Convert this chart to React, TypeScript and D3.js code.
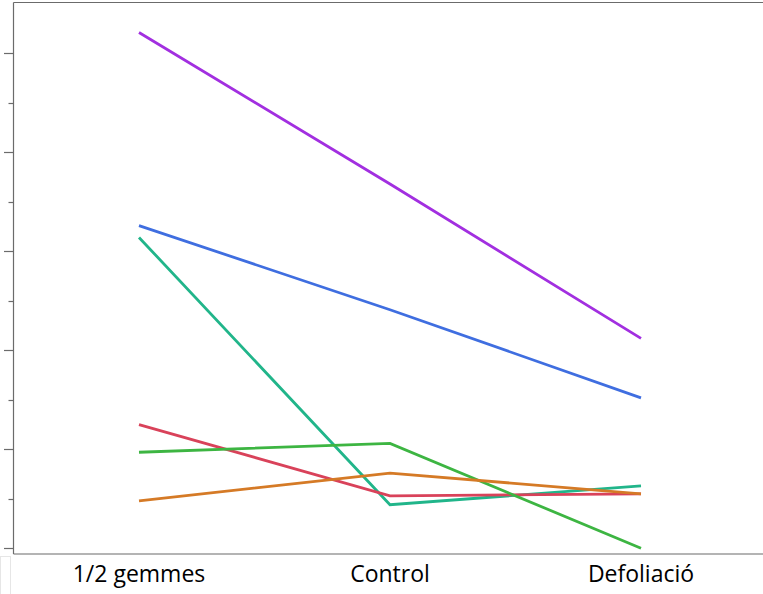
import * as d3 from "d3";

const categories = ["1/2 gemmes", "Control", "Defoliació"];

// values (no labels on the y axis, so arbitrary units)
const purple = [5.21, 3.68, 2.12];
const blue = [3.26, 2.41, 1.52];
const teal = [3.14, 0.44, 0.63];
const red = [1.25, 0.53, 0.55];
const green = [0.97, 1.06, 0.0];
const orange = [0.48, 0.76, 0.55];

const majorTicks = [0, 1, 2, 3, 4, 5];
const minorTicks = [0.5, 1.5, 2.5, 3.5, 4.5];

const series = [
  { name: "purple", color: "#a22fe0", values: purple },
  { name: "blue", color: "#3f6ee0", values: blue },
  { name: "teal", color: "#21b58a", values: teal },
  { name: "red", color: "#d9425a", values: red },
  { name: "green", color: "#3db542", values: green },
  { name: "orange", color: "#d57a26", values: orange },
];

const W = 763, H = 594;
const axisX = 13.5, top = 2.5, bottom = 554;

export default function App() {
  const x = d3.scalePoint<string>().domain(categories).range([13.5, 766.5]).padding(0.5);
  const y = d3.scaleLinear().domain([0, 5]).range([548.3, 53.3]);
  const line = d3.line<[string, number]>().x((d) => x(d[0])!).y((d) => y(d[1]));
  const axisColor = "#6b6b6b";

  return (
    <svg width={W} height={H} style={{ position: "absolute", left: 0, top: 0, background: "#fff" }}
      fontFamily="'Open Sans', 'Noto Sans', sans-serif">
      <rect x={0.5} y={556.5} width={10} height={40} fill="none" stroke="#e6e6e6" />
      {/* frame */}
      <line x1={axisX} x2={W} y1={top} y2={top} stroke={axisColor} strokeWidth={1.2} />
      <line x1={axisX} x2={W} y1={bottom} y2={bottom} stroke={axisColor} strokeWidth={1.2} />
      <line x1={axisX} x2={axisX} y1={top} y2={bottom} stroke={axisColor} strokeWidth={1.2} />
      {majorTicks.map((t) => (
        <line key={`M${t}`} x1={4} x2={axisX} y1={Math.round(y(t)) + 0.5} y2={Math.round(y(t)) + 0.5} stroke={axisColor} strokeWidth={1.2} />
      ))}
      {minorTicks.map((t) => (
        <line key={`m${t}`} x1={8.5} x2={axisX} y1={Math.round(y(t)) + 0.5} y2={Math.round(y(t)) + 0.5} stroke={axisColor} strokeWidth={1.2} />
      ))}
      {series.map((s) => (
        <path key={s.name} d={line(categories.map((c, i) => [c, s.values[i]]))!} fill="none"
          stroke={s.color} strokeWidth={2.8} />
      ))}
      {categories.map((c) => (
        <text key={c} x={x(c)} y={582} textAnchor="middle" fontSize={23} fill="#000">{c}</text>
      ))}
    </svg>
  );
}
